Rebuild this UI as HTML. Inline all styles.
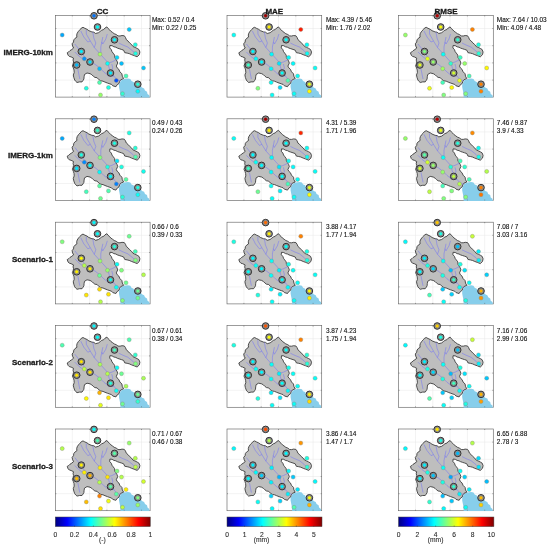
<!DOCTYPE html>
<html><head><meta charset="utf-8"><title>Figure</title>
<style>
html,body{margin:0;padding:0;background:#fff;}
svg{display:block;}
text{font-family:"Liberation Sans",Arial,sans-serif;fill:#1a1a1a;}
.b{font-weight:bold;font-size:8px;stroke:#1a1a1a;stroke-width:0.3px;}
.a{font-size:6.45px;fill:#111;stroke:#111;stroke-width:0.12px;}
.t{font-size:6.7px;fill:#2a2a2a;stroke:#2a2a2a;stroke-width:0.1px;}
</style></head><body>
<svg width="550" height="548" viewBox="0 0 550 548">
<defs>
<linearGradient id="jet" x1="0" x2="1" y1="0" y2="0">
<stop offset="0.0000" stop-color="#000080"/>
<stop offset="0.0312" stop-color="#00009f"/>
<stop offset="0.0625" stop-color="#0000bf"/>
<stop offset="0.0938" stop-color="#0000df"/>
<stop offset="0.1250" stop-color="#0000ff"/>
<stop offset="0.1562" stop-color="#0020ff"/>
<stop offset="0.1875" stop-color="#0040ff"/>
<stop offset="0.2188" stop-color="#0060ff"/>
<stop offset="0.2500" stop-color="#0080ff"/>
<stop offset="0.2812" stop-color="#009fff"/>
<stop offset="0.3125" stop-color="#00bfff"/>
<stop offset="0.3438" stop-color="#00dfff"/>
<stop offset="0.3750" stop-color="#00ffff"/>
<stop offset="0.4062" stop-color="#20ffdf"/>
<stop offset="0.4375" stop-color="#40ffbf"/>
<stop offset="0.4688" stop-color="#60ff9f"/>
<stop offset="0.5000" stop-color="#80ff80"/>
<stop offset="0.5312" stop-color="#9fff60"/>
<stop offset="0.5625" stop-color="#bfff40"/>
<stop offset="0.5938" stop-color="#dfff20"/>
<stop offset="0.6250" stop-color="#ffff00"/>
<stop offset="0.6562" stop-color="#ffdf00"/>
<stop offset="0.6875" stop-color="#ffbf00"/>
<stop offset="0.7188" stop-color="#ff9f00"/>
<stop offset="0.7500" stop-color="#ff8000"/>
<stop offset="0.7812" stop-color="#ff6000"/>
<stop offset="0.8125" stop-color="#ff4000"/>
<stop offset="0.8438" stop-color="#ff2000"/>
<stop offset="0.8750" stop-color="#ff0000"/>
<stop offset="0.9062" stop-color="#df0000"/>
<stop offset="0.9375" stop-color="#bf0000"/>
<stop offset="0.9688" stop-color="#9f0000"/>
<stop offset="1.0000" stop-color="#800000"/>
</linearGradient>
<clipPath id="cp"><rect x="0" y="0" width="94.7" height="81.7"/></clipPath>
<clipPath id="bc"><polygon points="11.9,37.6 14.6,35.4 18.1,32.6 17.1,28.6 18.6,24.6 21.1,21.6 21.6,17.6 24.6,14.1 27.6,11.8 29.6,12.6 33.6,15.1 36.6,16.4 40.1,17.9 43.1,17.2 46.6,15.1 49.6,12.6 51.6,11.4 57.1,17.1 62.6,20.1 68.6,20.6 72.6,25.6 77.6,31.1 83.6,34.1 84.6,36.6 84.1,39.6 81.6,41.6 78.6,40.6 73.6,38.6 69.6,37.1 68.1,35.1 63.6,33.6 58.6,31.1 54.6,30.1 54.1,32.6 55.6,34.6 58.1,37.6 59.6,42.1 62.1,47.6 61.1,50.6 63.1,54.1 66.1,58.6 68.1,63.1 65.6,64.6 63.6,68.1 60.6,71.1 57.6,70.1 54.6,68.1 49.6,66.6 45.6,65.1 41.6,62.6 37.6,61.1 34.6,58.1 31.6,57.6 29.1,59.1 28.6,63.6 26.6,66.6 21.6,67.1 19.1,64.6 18.1,59.6 18.6,54.6 17.4,50.6 18.1,46.6 18.1,42.8 15.6,41.6 12.6,39.8"/></clipPath>
<g id="map">
<rect x="0" y="0" width="94.7" height="81.7" fill="#fff"/>
<line x1="16.9" y1="0" x2="16.9" y2="81.7" stroke="#e6e6e6" stroke-width="0.5"/>
<line x1="34.2" y1="0" x2="34.2" y2="81.7" stroke="#e6e6e6" stroke-width="0.5"/>
<line x1="51.5" y1="0" x2="51.5" y2="81.7" stroke="#e6e6e6" stroke-width="0.5"/>
<line x1="68.8" y1="0" x2="68.8" y2="81.7" stroke="#e6e6e6" stroke-width="0.5"/>
<line x1="86.1" y1="0" x2="86.1" y2="81.7" stroke="#e6e6e6" stroke-width="0.5"/>
<line x1="0" y1="13.1" x2="94.7" y2="13.1" stroke="#e6e6e6" stroke-width="0.5"/>
<line x1="0" y1="30.3" x2="94.7" y2="30.3" stroke="#e6e6e6" stroke-width="0.5"/>
<line x1="0" y1="47.5" x2="94.7" y2="47.5" stroke="#e6e6e6" stroke-width="0.5"/>
<line x1="0" y1="64.7" x2="94.7" y2="64.7" stroke="#e6e6e6" stroke-width="0.5"/>
<rect x="0" y="0" width="94.7" height="81.7" fill="none" stroke="#666" stroke-width="0.65"/>
<polygon points="63.6,69.1 65.6,65.1 68.6,63.6 72.6,63.1 74.9,63.6 76.1,65.6 78.2,66.5 79.1,68.6 81.2,68.5 82.6,70.1 85.0,70.3 86.6,72.1 88.7,73.0 89.6,75.1 91.6,76.3 92.1,78.6 93.9,79.9 94.2,82.1 65.1,82.1 64.6,76.6 63.6,71.6" fill="#87ceeb"/>
<polygon points="11.8,37.4 13.3,36.5 14.5,35.3 16.4,34.1 18.2,32.6 17.2,30.7 16.7,28.4 18.1,26.7 18.4,24.5 19.7,22.9 21.5,21.7 21.3,19.6 21.8,17.8 23.1,15.8 24.7,14.2 25.9,12.7 27.6,11.9 29.4,12.9 31.6,13.9 33.5,15.3 36.5,16.5 38.5,16.8 40.2,18.1 43.1,17.3 44.8,16.0 46.3,14.8 48.3,14.1 49.6,12.6 51.5,11.5 52.7,13.1 54.2,14.4 55.5,15.9 57.1,17.0 58.8,18.3 60.8,19.1 62.6,20.5 64.6,20.6 66.6,20.1 68.9,20.4 70.1,22.1 70.9,24.2 72.6,25.6 74.2,27.5 76.1,29.1 77.6,31.1 79.6,32.0 81.7,33.0 83.5,34.1 84.5,36.6 83.9,39.3 81.7,41.4 78.7,40.2 76.2,39.3 73.8,38.2 71.7,37.7 69.4,37.3 68.2,34.8 66.0,34.0 63.8,33.3 62.0,32.7 60.4,31.8 58.5,31.4 56.7,30.3 54.5,30.1 54.3,32.5 55.9,34.3 56.6,36.3 57.7,37.7 59.2,39.7 59.4,42.2 60.5,43.9 61.6,45.6 62.3,47.7 60.9,50.7 61.8,52.5 63.4,53.9 64.5,56.4 66.5,58.4 66.9,60.9 68.2,63.2 65.3,64.4 64.2,66.1 63.6,68.1 61.8,69.3 60.5,71.3 57.4,70.4 56.1,69.0 54.5,68.5 52.0,67.6 49.6,66.7 47.6,65.8 45.4,65.4 43.4,64.2 41.7,62.3 39.5,62.0 37.9,60.8 36.4,59.3 34.6,58.2 31.6,57.6 29.1,59.1 28.7,61.3 28.5,63.6 27.6,65.1 26.6,66.5 24.1,66.5 21.6,67.1 20.3,65.9 19.3,64.6 18.4,62.1 17.9,59.6 18.8,57.1 18.6,54.6 18.0,52.6 17.0,50.5 17.7,48.6 18.2,46.6 17.7,44.7 18.1,42.7 15.7,41.5 13.9,41.0 12.7,39.8" fill="#bebebe" stroke="#333" stroke-width="0.85" stroke-linejoin="round"/>
<polyline clip-path="url(#bc)" points="30.9,14.6 30.9,18.6 34.9,25.6 38.9,32.1 43.4,37.1 48.4,42.6 52.9,47.6 53.4,51.6 55.4,56.6 58.4,60.6 61.4,64.1 65.4,65.6" fill="none" stroke="#6868ff" stroke-width="0.5" stroke-opacity="0.9"/>
<polyline clip-path="url(#bc)" points="19.4,28.6 23.4,33.6 26.4,37.6 29.4,42.1 34.9,46.1 39.9,49.1 44.4,52.6 48.4,56.6 53.4,60.6 58.4,60.6" fill="none" stroke="#6868ff" stroke-width="0.5" stroke-opacity="0.9"/>
<polyline clip-path="url(#bc)" points="47.4,21.6 46.4,26.6 45.4,31.6 45.4,37.6 43.4,37.1" fill="none" stroke="#6868ff" stroke-width="0.5" stroke-opacity="0.9"/>
<polyline clip-path="url(#bc)" points="51.9,18.6 50.4,23.6 47.4,28.6 46.4,26.6" fill="none" stroke="#6868ff" stroke-width="0.5" stroke-opacity="0.9"/>
<polyline clip-path="url(#bc)" points="62.4,41.6 60.4,44.6 56.4,46.6 52.9,47.6" fill="none" stroke="#6868ff" stroke-width="0.5" stroke-opacity="0.9"/>
<polyline clip-path="url(#bc)" points="22.4,53.6 23.4,58.6 24.4,63.6" fill="none" stroke="#6868ff" stroke-width="0.5" stroke-opacity="0.9"/>
<polyline clip-path="url(#bc)" points="19.4,36.6 23.4,40.6 27.4,43.6 29.4,42.1" fill="none" stroke="#6868ff" stroke-width="0.5" stroke-opacity="0.9"/>
<polyline clip-path="url(#bc)" points="25.4,15.6 28.4,21.6 32.4,26.6 34.9,25.6" fill="none" stroke="#6868ff" stroke-width="0.5" stroke-opacity="0.9"/>
<polyline clip-path="url(#bc)" points="37.4,16.6 38.4,22.6 40.4,27.6 38.9,32.1" fill="none" stroke="#6868ff" stroke-width="0.5" stroke-opacity="0.9"/>
<polyline clip-path="url(#bc)" points="63.4,27.6 67.4,29.6 72.4,31.6 77.4,35.6 81.4,39.6" fill="none" stroke="#6868ff" stroke-width="0.5" stroke-opacity="0.9"/>
<polyline clip-path="url(#bc)" points="56.4,48.6 57.4,52.6 55.4,56.6" fill="none" stroke="#6868ff" stroke-width="0.5" stroke-opacity="0.9"/>
<path d="M16.9 0v1M16.9 81.7v-1" stroke="#555" stroke-width="0.5"/>
<path d="M34.2 0v1M34.2 81.7v-1" stroke="#555" stroke-width="0.5"/>
<path d="M51.5 0v1M51.5 81.7v-1" stroke="#555" stroke-width="0.5"/>
<path d="M68.8 0v1M68.8 81.7v-1" stroke="#555" stroke-width="0.5"/>
<path d="M86.1 0v1M86.1 81.7v-1" stroke="#555" stroke-width="0.5"/>
<path d="M0 13.1h1M94.7 13.1h-1" stroke="#555" stroke-width="0.5"/>
<path d="M0 30.3h1M94.7 30.3h-1" stroke="#555" stroke-width="0.5"/>
<path d="M0 47.5h1M94.7 47.5h-1" stroke="#555" stroke-width="0.5"/>
<path d="M0 64.7h1M94.7 64.7h-1" stroke="#555" stroke-width="0.5"/>
</g></defs>
<rect width="550" height="548" fill="#fff"/>
<g transform="translate(55.4,15.4)">
<use href="#map"/>
<circle cx="6.8" cy="19.6" r="2" fill="#00a8ff" stroke="#8a8a7a" stroke-width="0.4"/>
<circle cx="73.8" cy="14.1" r="2" fill="#00c7ff" stroke="#8a8a7a" stroke-width="0.4"/>
<circle cx="79.9" cy="29.3" r="2" fill="#1affe5" stroke="#8a8a7a" stroke-width="0.4"/>
<circle cx="80.1" cy="38.1" r="2" fill="#1affe5" stroke="#8a8a7a" stroke-width="0.4"/>
<circle cx="44.6" cy="38.8" r="2" fill="#9eff61" stroke="#8a8a7a" stroke-width="0.4"/>
<circle cx="61.6" cy="42.1" r="2" fill="#00dbff" stroke="#8a8a7a" stroke-width="0.4"/>
<circle cx="28.9" cy="43.4" r="2" fill="#0094ff" stroke="#8a8a7a" stroke-width="0.4"/>
<circle cx="52.1" cy="48.1" r="2" fill="#05fffa" stroke="#8a8a7a" stroke-width="0.4"/>
<circle cx="66.1" cy="48.1" r="2" fill="#00bdff" stroke="#8a8a7a" stroke-width="0.4"/>
<circle cx="44.1" cy="53.3" r="2" fill="#00bdff" stroke="#8a8a7a" stroke-width="0.4"/>
<circle cx="88.1" cy="52.6" r="2" fill="#00c7ff" stroke="#8a8a7a" stroke-width="0.4"/>
<circle cx="70.6" cy="60.6" r="2" fill="#42ffbd" stroke="#8a8a7a" stroke-width="0.4"/>
<circle cx="60.9" cy="65.1" r="2" fill="#004dff" stroke="#8a8a7a" stroke-width="0.4"/>
<circle cx="44.1" cy="67.1" r="2" fill="#4dffb3" stroke="#8a8a7a" stroke-width="0.4"/>
<circle cx="30.9" cy="72.9" r="2" fill="#1affe5" stroke="#8a8a7a" stroke-width="0.4"/>
<circle cx="53.1" cy="72.1" r="2" fill="#1affe5" stroke="#8a8a7a" stroke-width="0.4"/>
<circle cx="82.4" cy="75.9" r="2" fill="#00faff" stroke="#8a8a7a" stroke-width="0.4"/>
<circle cx="67.1" cy="78.3" r="2" fill="#2effd1" stroke="#8a8a7a" stroke-width="0.4"/>
<circle cx="45.1" cy="79.6" r="2" fill="#94ff6b" stroke="#8a8a7a" stroke-width="0.4"/>
<circle cx="38.6" cy="0.4" r="3.3" fill="#909090" stroke="#333" stroke-width="1"/>
<circle cx="38.6" cy="0.4" r="1.8" fill="#0075ff" stroke="#777" stroke-width="0.3"/>
<circle cx="42.1" cy="11.6" r="3.3" fill="#909090" stroke="#333" stroke-width="1"/>
<circle cx="42.1" cy="11.6" r="1.8" fill="#05fffa" stroke="#777" stroke-width="0.3"/>
<circle cx="59.1" cy="24.4" r="3.3" fill="#909090" stroke="#333" stroke-width="1"/>
<circle cx="59.1" cy="24.4" r="1.8" fill="#00faff" stroke="#777" stroke-width="0.3"/>
<circle cx="25.9" cy="36.1" r="3.3" fill="#909090" stroke="#333" stroke-width="1"/>
<circle cx="25.9" cy="36.1" r="1.8" fill="#00f0ff" stroke="#777" stroke-width="0.3"/>
<circle cx="34.6" cy="46.6" r="3.3" fill="#909090" stroke="#333" stroke-width="1"/>
<circle cx="34.6" cy="46.6" r="1.8" fill="#00e5ff" stroke="#777" stroke-width="0.3"/>
<circle cx="21.3" cy="49.6" r="3.3" fill="#909090" stroke="#333" stroke-width="1"/>
<circle cx="21.3" cy="49.6" r="1.8" fill="#00bdff" stroke="#777" stroke-width="0.3"/>
<circle cx="55.1" cy="57.6" r="3.3" fill="#909090" stroke="#333" stroke-width="1"/>
<circle cx="55.1" cy="57.6" r="1.8" fill="#00f0ff" stroke="#777" stroke-width="0.3"/>
<circle cx="82.4" cy="68.8" r="3.3" fill="#909090" stroke="#333" stroke-width="1"/>
<circle cx="82.4" cy="68.8" r="1.8" fill="#24ffdb" stroke="#777" stroke-width="0.3"/>
</g>
<text class="a" x="152.0" y="21.6">Max: 0.52 / 0.4</text>
<text class="a" x="152.0" y="29.5">Min: 0.22 / 0.25</text>
<g transform="translate(227.0,15.4)">
<use href="#map"/>
<circle cx="6.8" cy="19.6" r="2" fill="#05fffa" stroke="#8a8a7a" stroke-width="0.4"/>
<circle cx="73.8" cy="14.1" r="2" fill="#ff1a00" stroke="#8a8a7a" stroke-width="0.4"/>
<circle cx="79.9" cy="29.3" r="2" fill="#05fffa" stroke="#8a8a7a" stroke-width="0.4"/>
<circle cx="80.1" cy="38.1" r="2" fill="#05fffa" stroke="#8a8a7a" stroke-width="0.4"/>
<circle cx="44.6" cy="38.8" r="2" fill="#00faff" stroke="#8a8a7a" stroke-width="0.4"/>
<circle cx="61.6" cy="42.1" r="2" fill="#00faff" stroke="#8a8a7a" stroke-width="0.4"/>
<circle cx="28.9" cy="43.4" r="2" fill="#00faff" stroke="#8a8a7a" stroke-width="0.4"/>
<circle cx="52.1" cy="48.1" r="2" fill="#00e5ff" stroke="#8a8a7a" stroke-width="0.4"/>
<circle cx="66.1" cy="48.1" r="2" fill="#00faff" stroke="#8a8a7a" stroke-width="0.4"/>
<circle cx="44.1" cy="53.3" r="2" fill="#00faff" stroke="#8a8a7a" stroke-width="0.4"/>
<circle cx="88.1" cy="52.6" r="2" fill="#05fffa" stroke="#8a8a7a" stroke-width="0.4"/>
<circle cx="70.6" cy="60.6" r="2" fill="#05fffa" stroke="#8a8a7a" stroke-width="0.4"/>
<circle cx="60.9" cy="65.1" r="2" fill="#4dffb3" stroke="#8a8a7a" stroke-width="0.4"/>
<circle cx="44.1" cy="67.1" r="2" fill="#05fffa" stroke="#8a8a7a" stroke-width="0.4"/>
<circle cx="30.9" cy="72.9" r="2" fill="#80ff80" stroke="#8a8a7a" stroke-width="0.4"/>
<circle cx="53.1" cy="72.1" r="2" fill="#00dbff" stroke="#8a8a7a" stroke-width="0.4"/>
<circle cx="82.4" cy="75.9" r="2" fill="#fffa00" stroke="#8a8a7a" stroke-width="0.4"/>
<circle cx="67.1" cy="78.3" r="2" fill="#05fffa" stroke="#8a8a7a" stroke-width="0.4"/>
<circle cx="45.1" cy="79.6" r="2" fill="#05fffa" stroke="#8a8a7a" stroke-width="0.4"/>
<circle cx="38.6" cy="0.4" r="3.3" fill="#909090" stroke="#333" stroke-width="1"/>
<circle cx="38.6" cy="0.4" r="1.8" fill="#9e0000" stroke="#777" stroke-width="0.3"/>
<circle cx="42.1" cy="11.6" r="3.3" fill="#909090" stroke="#333" stroke-width="1"/>
<circle cx="42.1" cy="11.6" r="1.8" fill="#fff000" stroke="#777" stroke-width="0.3"/>
<circle cx="59.1" cy="24.4" r="3.3" fill="#909090" stroke="#333" stroke-width="1"/>
<circle cx="59.1" cy="24.4" r="1.8" fill="#05fffa" stroke="#777" stroke-width="0.3"/>
<circle cx="25.9" cy="36.1" r="3.3" fill="#909090" stroke="#333" stroke-width="1"/>
<circle cx="25.9" cy="36.1" r="1.8" fill="#00faff" stroke="#777" stroke-width="0.3"/>
<circle cx="34.6" cy="46.6" r="3.3" fill="#909090" stroke="#333" stroke-width="1"/>
<circle cx="34.6" cy="46.6" r="1.8" fill="#00faff" stroke="#777" stroke-width="0.3"/>
<circle cx="21.3" cy="49.6" r="3.3" fill="#909090" stroke="#333" stroke-width="1"/>
<circle cx="21.3" cy="49.6" r="1.8" fill="#38ffc7" stroke="#777" stroke-width="0.3"/>
<circle cx="55.1" cy="57.6" r="3.3" fill="#909090" stroke="#333" stroke-width="1"/>
<circle cx="55.1" cy="57.6" r="1.8" fill="#05fffa" stroke="#777" stroke-width="0.3"/>
<circle cx="82.4" cy="68.8" r="3.3" fill="#909090" stroke="#333" stroke-width="1"/>
<circle cx="82.4" cy="68.8" r="1.8" fill="#e5ff1a" stroke="#777" stroke-width="0.3"/>
</g>
<text class="a" x="325.9" y="21.6">Max: 4.39 / 5.46</text>
<text class="a" x="325.9" y="29.5">Min: 1.76 / 2.02</text>
<g transform="translate(398.6,15.4)">
<use href="#map"/>
<circle cx="6.8" cy="19.6" r="2" fill="#94ff6b" stroke="#8a8a7a" stroke-width="0.4"/>
<circle cx="73.8" cy="14.1" r="2" fill="#ff8000" stroke="#8a8a7a" stroke-width="0.4"/>
<circle cx="79.9" cy="29.3" r="2" fill="#1affe5" stroke="#8a8a7a" stroke-width="0.4"/>
<circle cx="80.1" cy="38.1" r="2" fill="#24ffdb" stroke="#8a8a7a" stroke-width="0.4"/>
<circle cx="44.6" cy="38.8" r="2" fill="#05fffa" stroke="#8a8a7a" stroke-width="0.4"/>
<circle cx="61.6" cy="42.1" r="2" fill="#38ffc7" stroke="#8a8a7a" stroke-width="0.4"/>
<circle cx="28.9" cy="43.4" r="2" fill="#e5ff1a" stroke="#8a8a7a" stroke-width="0.4"/>
<circle cx="52.1" cy="48.1" r="2" fill="#2effd1" stroke="#8a8a7a" stroke-width="0.4"/>
<circle cx="66.1" cy="48.1" r="2" fill="#94ff6b" stroke="#8a8a7a" stroke-width="0.4"/>
<circle cx="44.1" cy="53.3" r="2" fill="#9eff61" stroke="#8a8a7a" stroke-width="0.4"/>
<circle cx="88.1" cy="52.6" r="2" fill="#fffa00" stroke="#8a8a7a" stroke-width="0.4"/>
<circle cx="70.6" cy="60.6" r="2" fill="#42ffbd" stroke="#8a8a7a" stroke-width="0.4"/>
<circle cx="60.9" cy="65.1" r="2" fill="#e5ff1a" stroke="#8a8a7a" stroke-width="0.4"/>
<circle cx="44.1" cy="67.1" r="2" fill="#42ffbd" stroke="#8a8a7a" stroke-width="0.4"/>
<circle cx="30.9" cy="72.9" r="2" fill="#f0ff0f" stroke="#8a8a7a" stroke-width="0.4"/>
<circle cx="53.1" cy="72.1" r="2" fill="#fffa00" stroke="#8a8a7a" stroke-width="0.4"/>
<circle cx="82.4" cy="75.9" r="2" fill="#ff8000" stroke="#8a8a7a" stroke-width="0.4"/>
<circle cx="67.1" cy="78.3" r="2" fill="#80ff80" stroke="#8a8a7a" stroke-width="0.4"/>
<circle cx="45.1" cy="79.6" r="2" fill="#80ff80" stroke="#8a8a7a" stroke-width="0.4"/>
<circle cx="38.6" cy="0.4" r="3.3" fill="#909090" stroke="#333" stroke-width="1"/>
<circle cx="38.6" cy="0.4" r="1.8" fill="#b30000" stroke="#777" stroke-width="0.3"/>
<circle cx="42.1" cy="11.6" r="3.3" fill="#909090" stroke="#333" stroke-width="1"/>
<circle cx="42.1" cy="11.6" r="1.8" fill="#faff05" stroke="#777" stroke-width="0.3"/>
<circle cx="59.1" cy="24.4" r="3.3" fill="#909090" stroke="#333" stroke-width="1"/>
<circle cx="59.1" cy="24.4" r="1.8" fill="#2effd1" stroke="#777" stroke-width="0.3"/>
<circle cx="25.9" cy="36.1" r="3.3" fill="#909090" stroke="#333" stroke-width="1"/>
<circle cx="25.9" cy="36.1" r="1.8" fill="#80ff80" stroke="#777" stroke-width="0.3"/>
<circle cx="34.6" cy="46.6" r="3.3" fill="#909090" stroke="#333" stroke-width="1"/>
<circle cx="34.6" cy="46.6" r="1.8" fill="#94ff6b" stroke="#777" stroke-width="0.3"/>
<circle cx="21.3" cy="49.6" r="3.3" fill="#909090" stroke="#333" stroke-width="1"/>
<circle cx="21.3" cy="49.6" r="1.8" fill="#e5ff1a" stroke="#777" stroke-width="0.3"/>
<circle cx="55.1" cy="57.6" r="3.3" fill="#909090" stroke="#333" stroke-width="1"/>
<circle cx="55.1" cy="57.6" r="1.8" fill="#d1ff2e" stroke="#777" stroke-width="0.3"/>
<circle cx="82.4" cy="68.8" r="3.3" fill="#909090" stroke="#333" stroke-width="1"/>
<circle cx="82.4" cy="68.8" r="1.8" fill="#ff8000" stroke="#777" stroke-width="0.3"/>
</g>
<text class="a" x="496.8" y="21.6">Max: 7.64 / 10.03</text>
<text class="a" x="496.8" y="29.5">Min: 4.09 / 4.48</text>
<text class="b" text-anchor="end" x="52.9" y="54.9">IMERG-10km</text>
<g transform="translate(55.4,118.8)">
<use href="#map"/>
<circle cx="6.8" cy="19.6" r="2" fill="#00a8ff" stroke="#8a8a7a" stroke-width="0.4"/>
<circle cx="73.8" cy="14.1" r="2" fill="#1affe5" stroke="#8a8a7a" stroke-width="0.4"/>
<circle cx="79.9" cy="29.3" r="2" fill="#24ffdb" stroke="#8a8a7a" stroke-width="0.4"/>
<circle cx="80.1" cy="38.1" r="2" fill="#4dffb3" stroke="#8a8a7a" stroke-width="0.4"/>
<circle cx="44.6" cy="38.8" r="2" fill="#80ff80" stroke="#8a8a7a" stroke-width="0.4"/>
<circle cx="61.6" cy="42.1" r="2" fill="#00e5ff" stroke="#8a8a7a" stroke-width="0.4"/>
<circle cx="28.9" cy="43.4" r="2" fill="#008aff" stroke="#8a8a7a" stroke-width="0.4"/>
<circle cx="52.1" cy="48.1" r="2" fill="#1affe5" stroke="#8a8a7a" stroke-width="0.4"/>
<circle cx="66.1" cy="48.1" r="2" fill="#1affe5" stroke="#8a8a7a" stroke-width="0.4"/>
<circle cx="44.1" cy="53.3" r="2" fill="#00faff" stroke="#8a8a7a" stroke-width="0.4"/>
<circle cx="88.1" cy="52.6" r="2" fill="#0ffff0" stroke="#8a8a7a" stroke-width="0.4"/>
<circle cx="70.6" cy="60.6" r="2" fill="#57ffa8" stroke="#8a8a7a" stroke-width="0.4"/>
<circle cx="60.9" cy="65.1" r="2" fill="#0080ff" stroke="#8a8a7a" stroke-width="0.4"/>
<circle cx="44.1" cy="67.1" r="2" fill="#57ffa8" stroke="#8a8a7a" stroke-width="0.4"/>
<circle cx="30.9" cy="72.9" r="2" fill="#42ffbd" stroke="#8a8a7a" stroke-width="0.4"/>
<circle cx="53.1" cy="72.1" r="2" fill="#4dffb3" stroke="#8a8a7a" stroke-width="0.4"/>
<circle cx="82.4" cy="75.9" r="2" fill="#05fffa" stroke="#8a8a7a" stroke-width="0.4"/>
<circle cx="67.1" cy="78.3" r="2" fill="#24ffdb" stroke="#8a8a7a" stroke-width="0.4"/>
<circle cx="45.1" cy="79.6" r="2" fill="#6bff94" stroke="#8a8a7a" stroke-width="0.4"/>
<circle cx="38.6" cy="0.4" r="3.3" fill="#909090" stroke="#333" stroke-width="1"/>
<circle cx="38.6" cy="0.4" r="1.8" fill="#0080ff" stroke="#777" stroke-width="0.3"/>
<circle cx="42.1" cy="11.6" r="3.3" fill="#909090" stroke="#333" stroke-width="1"/>
<circle cx="42.1" cy="11.6" r="1.8" fill="#38ffc7" stroke="#777" stroke-width="0.3"/>
<circle cx="59.1" cy="24.4" r="3.3" fill="#909090" stroke="#333" stroke-width="1"/>
<circle cx="59.1" cy="24.4" r="1.8" fill="#1affe5" stroke="#777" stroke-width="0.3"/>
<circle cx="25.9" cy="36.1" r="3.3" fill="#909090" stroke="#333" stroke-width="1"/>
<circle cx="25.9" cy="36.1" r="1.8" fill="#1affe5" stroke="#777" stroke-width="0.3"/>
<circle cx="34.6" cy="46.6" r="3.3" fill="#909090" stroke="#333" stroke-width="1"/>
<circle cx="34.6" cy="46.6" r="1.8" fill="#00faff" stroke="#777" stroke-width="0.3"/>
<circle cx="21.3" cy="49.6" r="3.3" fill="#909090" stroke="#333" stroke-width="1"/>
<circle cx="21.3" cy="49.6" r="1.8" fill="#00e5ff" stroke="#777" stroke-width="0.3"/>
<circle cx="55.1" cy="57.6" r="3.3" fill="#909090" stroke="#333" stroke-width="1"/>
<circle cx="55.1" cy="57.6" r="1.8" fill="#00faff" stroke="#777" stroke-width="0.3"/>
<circle cx="82.4" cy="68.8" r="3.3" fill="#909090" stroke="#333" stroke-width="1"/>
<circle cx="82.4" cy="68.8" r="1.8" fill="#1affe5" stroke="#777" stroke-width="0.3"/>
</g>
<text class="a" x="152.0" y="125.3">0.49 / 0.43</text>
<text class="a" x="152.0" y="133.2">0.24 / 0.26</text>
<g transform="translate(227.0,118.8)">
<use href="#map"/>
<circle cx="6.8" cy="19.6" r="2" fill="#05fffa" stroke="#8a8a7a" stroke-width="0.4"/>
<circle cx="73.8" cy="14.1" r="2" fill="#ff2400" stroke="#8a8a7a" stroke-width="0.4"/>
<circle cx="79.9" cy="29.3" r="2" fill="#05fffa" stroke="#8a8a7a" stroke-width="0.4"/>
<circle cx="80.1" cy="38.1" r="2" fill="#05fffa" stroke="#8a8a7a" stroke-width="0.4"/>
<circle cx="44.6" cy="38.8" r="2" fill="#00faff" stroke="#8a8a7a" stroke-width="0.4"/>
<circle cx="61.6" cy="42.1" r="2" fill="#05fffa" stroke="#8a8a7a" stroke-width="0.4"/>
<circle cx="28.9" cy="43.4" r="2" fill="#05fffa" stroke="#8a8a7a" stroke-width="0.4"/>
<circle cx="52.1" cy="48.1" r="2" fill="#00e5ff" stroke="#8a8a7a" stroke-width="0.4"/>
<circle cx="66.1" cy="48.1" r="2" fill="#00faff" stroke="#8a8a7a" stroke-width="0.4"/>
<circle cx="44.1" cy="53.3" r="2" fill="#00faff" stroke="#8a8a7a" stroke-width="0.4"/>
<circle cx="88.1" cy="52.6" r="2" fill="#05fffa" stroke="#8a8a7a" stroke-width="0.4"/>
<circle cx="70.6" cy="60.6" r="2" fill="#05fffa" stroke="#8a8a7a" stroke-width="0.4"/>
<circle cx="60.9" cy="65.1" r="2" fill="#42ffbd" stroke="#8a8a7a" stroke-width="0.4"/>
<circle cx="44.1" cy="67.1" r="2" fill="#05fffa" stroke="#8a8a7a" stroke-width="0.4"/>
<circle cx="30.9" cy="72.9" r="2" fill="#6bff94" stroke="#8a8a7a" stroke-width="0.4"/>
<circle cx="53.1" cy="72.1" r="2" fill="#00f0ff" stroke="#8a8a7a" stroke-width="0.4"/>
<circle cx="82.4" cy="75.9" r="2" fill="#faff05" stroke="#8a8a7a" stroke-width="0.4"/>
<circle cx="67.1" cy="78.3" r="2" fill="#05fffa" stroke="#8a8a7a" stroke-width="0.4"/>
<circle cx="45.1" cy="79.6" r="2" fill="#05fffa" stroke="#8a8a7a" stroke-width="0.4"/>
<circle cx="38.6" cy="0.4" r="3.3" fill="#909090" stroke="#333" stroke-width="1"/>
<circle cx="38.6" cy="0.4" r="1.8" fill="#9e0000" stroke="#777" stroke-width="0.3"/>
<circle cx="42.1" cy="11.6" r="3.3" fill="#909090" stroke="#333" stroke-width="1"/>
<circle cx="42.1" cy="11.6" r="1.8" fill="#fff000" stroke="#777" stroke-width="0.3"/>
<circle cx="59.1" cy="24.4" r="3.3" fill="#909090" stroke="#333" stroke-width="1"/>
<circle cx="59.1" cy="24.4" r="1.8" fill="#05fffa" stroke="#777" stroke-width="0.3"/>
<circle cx="25.9" cy="36.1" r="3.3" fill="#909090" stroke="#333" stroke-width="1"/>
<circle cx="25.9" cy="36.1" r="1.8" fill="#00faff" stroke="#777" stroke-width="0.3"/>
<circle cx="34.6" cy="46.6" r="3.3" fill="#909090" stroke="#333" stroke-width="1"/>
<circle cx="34.6" cy="46.6" r="1.8" fill="#00faff" stroke="#777" stroke-width="0.3"/>
<circle cx="21.3" cy="49.6" r="3.3" fill="#909090" stroke="#333" stroke-width="1"/>
<circle cx="21.3" cy="49.6" r="1.8" fill="#38ffc7" stroke="#777" stroke-width="0.3"/>
<circle cx="55.1" cy="57.6" r="3.3" fill="#909090" stroke="#333" stroke-width="1"/>
<circle cx="55.1" cy="57.6" r="1.8" fill="#05fffa" stroke="#777" stroke-width="0.3"/>
<circle cx="82.4" cy="68.8" r="3.3" fill="#909090" stroke="#333" stroke-width="1"/>
<circle cx="82.4" cy="68.8" r="1.8" fill="#e5ff1a" stroke="#777" stroke-width="0.3"/>
</g>
<text class="a" x="325.9" y="125.3">4.31 / 5.39</text>
<text class="a" x="325.9" y="133.2">1.71 / 1.96</text>
<g transform="translate(398.6,118.8)">
<use href="#map"/>
<circle cx="6.8" cy="19.6" r="2" fill="#94ff6b" stroke="#8a8a7a" stroke-width="0.4"/>
<circle cx="73.8" cy="14.1" r="2" fill="#ff8a00" stroke="#8a8a7a" stroke-width="0.4"/>
<circle cx="79.9" cy="29.3" r="2" fill="#05fffa" stroke="#8a8a7a" stroke-width="0.4"/>
<circle cx="80.1" cy="38.1" r="2" fill="#0ffff0" stroke="#8a8a7a" stroke-width="0.4"/>
<circle cx="44.6" cy="38.8" r="2" fill="#05fffa" stroke="#8a8a7a" stroke-width="0.4"/>
<circle cx="61.6" cy="42.1" r="2" fill="#42ffbd" stroke="#8a8a7a" stroke-width="0.4"/>
<circle cx="28.9" cy="43.4" r="2" fill="#d1ff2e" stroke="#8a8a7a" stroke-width="0.4"/>
<circle cx="52.1" cy="48.1" r="2" fill="#24ffdb" stroke="#8a8a7a" stroke-width="0.4"/>
<circle cx="66.1" cy="48.1" r="2" fill="#2effd1" stroke="#8a8a7a" stroke-width="0.4"/>
<circle cx="44.1" cy="53.3" r="2" fill="#94ff6b" stroke="#8a8a7a" stroke-width="0.4"/>
<circle cx="88.1" cy="52.6" r="2" fill="#b3ff4c" stroke="#8a8a7a" stroke-width="0.4"/>
<circle cx="70.6" cy="60.6" r="2" fill="#42ffbd" stroke="#8a8a7a" stroke-width="0.4"/>
<circle cx="60.9" cy="65.1" r="2" fill="#b3ff4c" stroke="#8a8a7a" stroke-width="0.4"/>
<circle cx="44.1" cy="67.1" r="2" fill="#42ffbd" stroke="#8a8a7a" stroke-width="0.4"/>
<circle cx="30.9" cy="72.9" r="2" fill="#bdff42" stroke="#8a8a7a" stroke-width="0.4"/>
<circle cx="53.1" cy="72.1" r="2" fill="#80ff80" stroke="#8a8a7a" stroke-width="0.4"/>
<circle cx="82.4" cy="75.9" r="2" fill="#ff7500" stroke="#8a8a7a" stroke-width="0.4"/>
<circle cx="67.1" cy="78.3" r="2" fill="#80ff80" stroke="#8a8a7a" stroke-width="0.4"/>
<circle cx="45.1" cy="79.6" r="2" fill="#80ff80" stroke="#8a8a7a" stroke-width="0.4"/>
<circle cx="38.6" cy="0.4" r="3.3" fill="#909090" stroke="#333" stroke-width="1"/>
<circle cx="38.6" cy="0.4" r="1.8" fill="#b30000" stroke="#777" stroke-width="0.3"/>
<circle cx="42.1" cy="11.6" r="3.3" fill="#909090" stroke="#333" stroke-width="1"/>
<circle cx="42.1" cy="11.6" r="1.8" fill="#e5ff1a" stroke="#777" stroke-width="0.3"/>
<circle cx="59.1" cy="24.4" r="3.3" fill="#909090" stroke="#333" stroke-width="1"/>
<circle cx="59.1" cy="24.4" r="1.8" fill="#24ffdb" stroke="#777" stroke-width="0.3"/>
<circle cx="25.9" cy="36.1" r="3.3" fill="#909090" stroke="#333" stroke-width="1"/>
<circle cx="25.9" cy="36.1" r="1.8" fill="#57ffa8" stroke="#777" stroke-width="0.3"/>
<circle cx="34.6" cy="46.6" r="3.3" fill="#909090" stroke="#333" stroke-width="1"/>
<circle cx="34.6" cy="46.6" r="1.8" fill="#94ff6b" stroke="#777" stroke-width="0.3"/>
<circle cx="21.3" cy="49.6" r="3.3" fill="#909090" stroke="#333" stroke-width="1"/>
<circle cx="21.3" cy="49.6" r="1.8" fill="#d1ff2e" stroke="#777" stroke-width="0.3"/>
<circle cx="55.1" cy="57.6" r="3.3" fill="#909090" stroke="#333" stroke-width="1"/>
<circle cx="55.1" cy="57.6" r="1.8" fill="#bdff42" stroke="#777" stroke-width="0.3"/>
<circle cx="82.4" cy="68.8" r="3.3" fill="#909090" stroke="#333" stroke-width="1"/>
<circle cx="82.4" cy="68.8" r="1.8" fill="#ff8000" stroke="#777" stroke-width="0.3"/>
</g>
<text class="a" x="496.8" y="125.3">7.46 / 9.87</text>
<text class="a" x="496.8" y="133.2">3.9 / 4.33</text>
<text class="b" text-anchor="end" x="52.9" y="158.3">IMERG-1km</text>
<g transform="translate(55.4,222.2)">
<use href="#map"/>
<circle cx="6.8" cy="19.6" r="2" fill="#80ff80" stroke="#8a8a7a" stroke-width="0.4"/>
<circle cx="73.8" cy="14.1" r="2" fill="#6bff94" stroke="#8a8a7a" stroke-width="0.4"/>
<circle cx="79.9" cy="29.3" r="2" fill="#42ffbd" stroke="#8a8a7a" stroke-width="0.4"/>
<circle cx="80.1" cy="38.1" r="2" fill="#80ff80" stroke="#8a8a7a" stroke-width="0.4"/>
<circle cx="44.6" cy="38.8" r="2" fill="#94ff6b" stroke="#8a8a7a" stroke-width="0.4"/>
<circle cx="61.6" cy="42.1" r="2" fill="#05fffa" stroke="#8a8a7a" stroke-width="0.4"/>
<circle cx="28.9" cy="43.4" r="2" fill="#b3ff4c" stroke="#8a8a7a" stroke-width="0.4"/>
<circle cx="52.1" cy="48.1" r="2" fill="#94ff6b" stroke="#8a8a7a" stroke-width="0.4"/>
<circle cx="66.1" cy="48.1" r="2" fill="#80ff80" stroke="#8a8a7a" stroke-width="0.4"/>
<circle cx="44.1" cy="53.3" r="2" fill="#6bff94" stroke="#8a8a7a" stroke-width="0.4"/>
<circle cx="88.1" cy="52.6" r="2" fill="#b3ff4c" stroke="#8a8a7a" stroke-width="0.4"/>
<circle cx="70.6" cy="60.6" r="2" fill="#6bff94" stroke="#8a8a7a" stroke-width="0.4"/>
<circle cx="60.9" cy="65.1" r="2" fill="#05fffa" stroke="#8a8a7a" stroke-width="0.4"/>
<circle cx="44.1" cy="67.1" r="2" fill="#ffdb00" stroke="#8a8a7a" stroke-width="0.4"/>
<circle cx="30.9" cy="72.9" r="2" fill="#ffe500" stroke="#8a8a7a" stroke-width="0.4"/>
<circle cx="53.1" cy="72.1" r="2" fill="#ffe500" stroke="#8a8a7a" stroke-width="0.4"/>
<circle cx="82.4" cy="75.9" r="2" fill="#6bff94" stroke="#8a8a7a" stroke-width="0.4"/>
<circle cx="67.1" cy="78.3" r="2" fill="#80ff80" stroke="#8a8a7a" stroke-width="0.4"/>
<circle cx="45.1" cy="79.6" r="2" fill="#b3ff4c" stroke="#8a8a7a" stroke-width="0.4"/>
<circle cx="38.6" cy="0.4" r="3.3" fill="#909090" stroke="#333" stroke-width="1"/>
<circle cx="38.6" cy="0.4" r="1.8" fill="#00faff" stroke="#777" stroke-width="0.3"/>
<circle cx="42.1" cy="11.6" r="3.3" fill="#909090" stroke="#333" stroke-width="1"/>
<circle cx="42.1" cy="11.6" r="1.8" fill="#05fffa" stroke="#777" stroke-width="0.3"/>
<circle cx="59.1" cy="24.4" r="3.3" fill="#909090" stroke="#333" stroke-width="1"/>
<circle cx="59.1" cy="24.4" r="1.8" fill="#24ffdb" stroke="#777" stroke-width="0.3"/>
<circle cx="25.9" cy="36.1" r="3.3" fill="#909090" stroke="#333" stroke-width="1"/>
<circle cx="25.9" cy="36.1" r="1.8" fill="#fffa00" stroke="#777" stroke-width="0.3"/>
<circle cx="34.6" cy="46.6" r="3.3" fill="#909090" stroke="#333" stroke-width="1"/>
<circle cx="34.6" cy="46.6" r="1.8" fill="#fff000" stroke="#777" stroke-width="0.3"/>
<circle cx="21.3" cy="49.6" r="3.3" fill="#909090" stroke="#333" stroke-width="1"/>
<circle cx="21.3" cy="49.6" r="1.8" fill="#fff000" stroke="#777" stroke-width="0.3"/>
<circle cx="55.1" cy="57.6" r="3.3" fill="#909090" stroke="#333" stroke-width="1"/>
<circle cx="55.1" cy="57.6" r="1.8" fill="#0ffff0" stroke="#777" stroke-width="0.3"/>
<circle cx="82.4" cy="68.8" r="3.3" fill="#909090" stroke="#333" stroke-width="1"/>
<circle cx="82.4" cy="68.8" r="1.8" fill="#6bff94" stroke="#777" stroke-width="0.3"/>
</g>
<text class="a" x="152.0" y="229.0">0.66 / 0.6</text>
<text class="a" x="152.0" y="236.9">0.39 / 0.33</text>
<g transform="translate(227.0,222.2)">
<use href="#map"/>
<circle cx="6.8" cy="19.6" r="2" fill="#1affe5" stroke="#8a8a7a" stroke-width="0.4"/>
<circle cx="73.8" cy="14.1" r="2" fill="#ff8000" stroke="#8a8a7a" stroke-width="0.4"/>
<circle cx="79.9" cy="29.3" r="2" fill="#1affe5" stroke="#8a8a7a" stroke-width="0.4"/>
<circle cx="80.1" cy="38.1" r="2" fill="#1affe5" stroke="#8a8a7a" stroke-width="0.4"/>
<circle cx="44.6" cy="38.8" r="2" fill="#05fffa" stroke="#8a8a7a" stroke-width="0.4"/>
<circle cx="61.6" cy="42.1" r="2" fill="#0ffff0" stroke="#8a8a7a" stroke-width="0.4"/>
<circle cx="28.9" cy="43.4" r="2" fill="#05fffa" stroke="#8a8a7a" stroke-width="0.4"/>
<circle cx="52.1" cy="48.1" r="2" fill="#00f0ff" stroke="#8a8a7a" stroke-width="0.4"/>
<circle cx="66.1" cy="48.1" r="2" fill="#05fffa" stroke="#8a8a7a" stroke-width="0.4"/>
<circle cx="44.1" cy="53.3" r="2" fill="#05fffa" stroke="#8a8a7a" stroke-width="0.4"/>
<circle cx="88.1" cy="52.6" r="2" fill="#05fffa" stroke="#8a8a7a" stroke-width="0.4"/>
<circle cx="70.6" cy="60.6" r="2" fill="#05fffa" stroke="#8a8a7a" stroke-width="0.4"/>
<circle cx="60.9" cy="65.1" r="2" fill="#00faff" stroke="#8a8a7a" stroke-width="0.4"/>
<circle cx="44.1" cy="67.1" r="2" fill="#00f0ff" stroke="#8a8a7a" stroke-width="0.4"/>
<circle cx="30.9" cy="72.9" r="2" fill="#1affe5" stroke="#8a8a7a" stroke-width="0.4"/>
<circle cx="53.1" cy="72.1" r="2" fill="#00f0ff" stroke="#8a8a7a" stroke-width="0.4"/>
<circle cx="82.4" cy="75.9" r="2" fill="#fff000" stroke="#8a8a7a" stroke-width="0.4"/>
<circle cx="67.1" cy="78.3" r="2" fill="#05fffa" stroke="#8a8a7a" stroke-width="0.4"/>
<circle cx="45.1" cy="79.6" r="2" fill="#05fffa" stroke="#8a8a7a" stroke-width="0.4"/>
<circle cx="38.6" cy="0.4" r="3.3" fill="#909090" stroke="#333" stroke-width="1"/>
<circle cx="38.6" cy="0.4" r="1.8" fill="#ff6b00" stroke="#777" stroke-width="0.3"/>
<circle cx="42.1" cy="11.6" r="3.3" fill="#909090" stroke="#333" stroke-width="1"/>
<circle cx="42.1" cy="11.6" r="1.8" fill="#fff000" stroke="#777" stroke-width="0.3"/>
<circle cx="59.1" cy="24.4" r="3.3" fill="#909090" stroke="#333" stroke-width="1"/>
<circle cx="59.1" cy="24.4" r="1.8" fill="#05fffa" stroke="#777" stroke-width="0.3"/>
<circle cx="25.9" cy="36.1" r="3.3" fill="#909090" stroke="#333" stroke-width="1"/>
<circle cx="25.9" cy="36.1" r="1.8" fill="#00faff" stroke="#777" stroke-width="0.3"/>
<circle cx="34.6" cy="46.6" r="3.3" fill="#909090" stroke="#333" stroke-width="1"/>
<circle cx="34.6" cy="46.6" r="1.8" fill="#00faff" stroke="#777" stroke-width="0.3"/>
<circle cx="21.3" cy="49.6" r="3.3" fill="#909090" stroke="#333" stroke-width="1"/>
<circle cx="21.3" cy="49.6" r="1.8" fill="#05fffa" stroke="#777" stroke-width="0.3"/>
<circle cx="55.1" cy="57.6" r="3.3" fill="#909090" stroke="#333" stroke-width="1"/>
<circle cx="55.1" cy="57.6" r="1.8" fill="#05fffa" stroke="#777" stroke-width="0.3"/>
<circle cx="82.4" cy="68.8" r="3.3" fill="#909090" stroke="#333" stroke-width="1"/>
<circle cx="82.4" cy="68.8" r="1.8" fill="#fffa00" stroke="#777" stroke-width="0.3"/>
</g>
<text class="a" x="325.9" y="229.0">3.88 / 4.17</text>
<text class="a" x="325.9" y="236.9">1.77 / 1.94</text>
<g transform="translate(398.6,222.2)">
<use href="#map"/>
<circle cx="6.8" cy="19.6" r="2" fill="#00faff" stroke="#8a8a7a" stroke-width="0.4"/>
<circle cx="73.8" cy="14.1" r="2" fill="#c7ff38" stroke="#8a8a7a" stroke-width="0.4"/>
<circle cx="79.9" cy="29.3" r="2" fill="#00f0ff" stroke="#8a8a7a" stroke-width="0.4"/>
<circle cx="80.1" cy="38.1" r="2" fill="#00f0ff" stroke="#8a8a7a" stroke-width="0.4"/>
<circle cx="44.6" cy="38.8" r="2" fill="#05fffa" stroke="#8a8a7a" stroke-width="0.4"/>
<circle cx="61.6" cy="42.1" r="2" fill="#1affe5" stroke="#8a8a7a" stroke-width="0.4"/>
<circle cx="28.9" cy="43.4" r="2" fill="#1affe5" stroke="#8a8a7a" stroke-width="0.4"/>
<circle cx="52.1" cy="48.1" r="2" fill="#00bdff" stroke="#8a8a7a" stroke-width="0.4"/>
<circle cx="66.1" cy="48.1" r="2" fill="#00e5ff" stroke="#8a8a7a" stroke-width="0.4"/>
<circle cx="44.1" cy="53.3" r="2" fill="#1affe5" stroke="#8a8a7a" stroke-width="0.4"/>
<circle cx="88.1" cy="52.6" r="2" fill="#00d1ff" stroke="#8a8a7a" stroke-width="0.4"/>
<circle cx="70.6" cy="60.6" r="2" fill="#05fffa" stroke="#8a8a7a" stroke-width="0.4"/>
<circle cx="60.9" cy="65.1" r="2" fill="#05fffa" stroke="#8a8a7a" stroke-width="0.4"/>
<circle cx="44.1" cy="67.1" r="2" fill="#00c7ff" stroke="#8a8a7a" stroke-width="0.4"/>
<circle cx="30.9" cy="72.9" r="2" fill="#42ffbd" stroke="#8a8a7a" stroke-width="0.4"/>
<circle cx="53.1" cy="72.1" r="2" fill="#00d1ff" stroke="#8a8a7a" stroke-width="0.4"/>
<circle cx="82.4" cy="75.9" r="2" fill="#ff9400" stroke="#8a8a7a" stroke-width="0.4"/>
<circle cx="67.1" cy="78.3" r="2" fill="#1affe5" stroke="#8a8a7a" stroke-width="0.4"/>
<circle cx="45.1" cy="79.6" r="2" fill="#05fffa" stroke="#8a8a7a" stroke-width="0.4"/>
<circle cx="38.6" cy="0.4" r="3.3" fill="#909090" stroke="#333" stroke-width="1"/>
<circle cx="38.6" cy="0.4" r="1.8" fill="#ffc700" stroke="#777" stroke-width="0.3"/>
<circle cx="42.1" cy="11.6" r="3.3" fill="#909090" stroke="#333" stroke-width="1"/>
<circle cx="42.1" cy="11.6" r="1.8" fill="#1affe5" stroke="#777" stroke-width="0.3"/>
<circle cx="59.1" cy="24.4" r="3.3" fill="#909090" stroke="#333" stroke-width="1"/>
<circle cx="59.1" cy="24.4" r="1.8" fill="#00c7ff" stroke="#777" stroke-width="0.3"/>
<circle cx="25.9" cy="36.1" r="3.3" fill="#909090" stroke="#333" stroke-width="1"/>
<circle cx="25.9" cy="36.1" r="1.8" fill="#00f0ff" stroke="#777" stroke-width="0.3"/>
<circle cx="34.6" cy="46.6" r="3.3" fill="#909090" stroke="#333" stroke-width="1"/>
<circle cx="34.6" cy="46.6" r="1.8" fill="#00dbff" stroke="#777" stroke-width="0.3"/>
<circle cx="21.3" cy="49.6" r="3.3" fill="#909090" stroke="#333" stroke-width="1"/>
<circle cx="21.3" cy="49.6" r="1.8" fill="#00faff" stroke="#777" stroke-width="0.3"/>
<circle cx="55.1" cy="57.6" r="3.3" fill="#909090" stroke="#333" stroke-width="1"/>
<circle cx="55.1" cy="57.6" r="1.8" fill="#38ffc7" stroke="#777" stroke-width="0.3"/>
<circle cx="82.4" cy="68.8" r="3.3" fill="#909090" stroke="#333" stroke-width="1"/>
<circle cx="82.4" cy="68.8" r="1.8" fill="#ffb300" stroke="#777" stroke-width="0.3"/>
</g>
<text class="a" x="496.8" y="229.0">7.08 / 7</text>
<text class="a" x="496.8" y="236.9">3.03 / 3.16</text>
<text class="b" text-anchor="end" x="52.9" y="261.7">Scenario-1</text>
<g transform="translate(55.4,325.6)">
<use href="#map"/>
<circle cx="6.8" cy="19.6" r="2" fill="#4dffb3" stroke="#8a8a7a" stroke-width="0.4"/>
<circle cx="73.8" cy="14.1" r="2" fill="#4dffb3" stroke="#8a8a7a" stroke-width="0.4"/>
<circle cx="79.9" cy="29.3" r="2" fill="#2effd1" stroke="#8a8a7a" stroke-width="0.4"/>
<circle cx="80.1" cy="38.1" r="2" fill="#80ff80" stroke="#8a8a7a" stroke-width="0.4"/>
<circle cx="44.6" cy="38.8" r="2" fill="#a8ff57" stroke="#8a8a7a" stroke-width="0.4"/>
<circle cx="61.6" cy="42.1" r="2" fill="#05fffa" stroke="#8a8a7a" stroke-width="0.4"/>
<circle cx="28.9" cy="43.4" r="2" fill="#bdff42" stroke="#8a8a7a" stroke-width="0.4"/>
<circle cx="52.1" cy="48.1" r="2" fill="#b3ff4c" stroke="#8a8a7a" stroke-width="0.4"/>
<circle cx="66.1" cy="48.1" r="2" fill="#6bff94" stroke="#8a8a7a" stroke-width="0.4"/>
<circle cx="44.1" cy="53.3" r="2" fill="#80ff80" stroke="#8a8a7a" stroke-width="0.4"/>
<circle cx="88.1" cy="52.6" r="2" fill="#a8ff57" stroke="#8a8a7a" stroke-width="0.4"/>
<circle cx="70.6" cy="60.6" r="2" fill="#a8ff57" stroke="#8a8a7a" stroke-width="0.4"/>
<circle cx="60.9" cy="65.1" r="2" fill="#05fffa" stroke="#8a8a7a" stroke-width="0.4"/>
<circle cx="44.1" cy="67.1" r="2" fill="#ffb300" stroke="#8a8a7a" stroke-width="0.4"/>
<circle cx="30.9" cy="72.9" r="2" fill="#fffa00" stroke="#8a8a7a" stroke-width="0.4"/>
<circle cx="53.1" cy="72.1" r="2" fill="#ffe500" stroke="#8a8a7a" stroke-width="0.4"/>
<circle cx="82.4" cy="75.9" r="2" fill="#2effd1" stroke="#8a8a7a" stroke-width="0.4"/>
<circle cx="67.1" cy="78.3" r="2" fill="#6bff94" stroke="#8a8a7a" stroke-width="0.4"/>
<circle cx="45.1" cy="79.6" r="2" fill="#e5ff1a" stroke="#8a8a7a" stroke-width="0.4"/>
<circle cx="38.6" cy="0.4" r="3.3" fill="#909090" stroke="#333" stroke-width="1"/>
<circle cx="38.6" cy="0.4" r="1.8" fill="#00faff" stroke="#777" stroke-width="0.3"/>
<circle cx="42.1" cy="11.6" r="3.3" fill="#909090" stroke="#333" stroke-width="1"/>
<circle cx="42.1" cy="11.6" r="1.8" fill="#05fffa" stroke="#777" stroke-width="0.3"/>
<circle cx="59.1" cy="24.4" r="3.3" fill="#909090" stroke="#333" stroke-width="1"/>
<circle cx="59.1" cy="24.4" r="1.8" fill="#42ffbd" stroke="#777" stroke-width="0.3"/>
<circle cx="25.9" cy="36.1" r="3.3" fill="#909090" stroke="#333" stroke-width="1"/>
<circle cx="25.9" cy="36.1" r="1.8" fill="#ffe500" stroke="#777" stroke-width="0.3"/>
<circle cx="34.6" cy="46.6" r="3.3" fill="#909090" stroke="#333" stroke-width="1"/>
<circle cx="34.6" cy="46.6" r="1.8" fill="#ffe500" stroke="#777" stroke-width="0.3"/>
<circle cx="21.3" cy="49.6" r="3.3" fill="#909090" stroke="#333" stroke-width="1"/>
<circle cx="21.3" cy="49.6" r="1.8" fill="#ffe500" stroke="#777" stroke-width="0.3"/>
<circle cx="55.1" cy="57.6" r="3.3" fill="#909090" stroke="#333" stroke-width="1"/>
<circle cx="55.1" cy="57.6" r="1.8" fill="#24ffdb" stroke="#777" stroke-width="0.3"/>
<circle cx="82.4" cy="68.8" r="3.3" fill="#909090" stroke="#333" stroke-width="1"/>
<circle cx="82.4" cy="68.8" r="1.8" fill="#6bff94" stroke="#777" stroke-width="0.3"/>
</g>
<text class="a" x="152.0" y="332.7">0.67 / 0.61</text>
<text class="a" x="152.0" y="340.6">0.38 / 0.34</text>
<g transform="translate(227.0,325.6)">
<use href="#map"/>
<circle cx="6.8" cy="19.6" r="2" fill="#1affe5" stroke="#8a8a7a" stroke-width="0.4"/>
<circle cx="73.8" cy="14.1" r="2" fill="#ff8000" stroke="#8a8a7a" stroke-width="0.4"/>
<circle cx="79.9" cy="29.3" r="2" fill="#24ffdb" stroke="#8a8a7a" stroke-width="0.4"/>
<circle cx="80.1" cy="38.1" r="2" fill="#24ffdb" stroke="#8a8a7a" stroke-width="0.4"/>
<circle cx="44.6" cy="38.8" r="2" fill="#05fffa" stroke="#8a8a7a" stroke-width="0.4"/>
<circle cx="61.6" cy="42.1" r="2" fill="#0ffff0" stroke="#8a8a7a" stroke-width="0.4"/>
<circle cx="28.9" cy="43.4" r="2" fill="#05fffa" stroke="#8a8a7a" stroke-width="0.4"/>
<circle cx="52.1" cy="48.1" r="2" fill="#00f0ff" stroke="#8a8a7a" stroke-width="0.4"/>
<circle cx="66.1" cy="48.1" r="2" fill="#05fffa" stroke="#8a8a7a" stroke-width="0.4"/>
<circle cx="44.1" cy="53.3" r="2" fill="#05fffa" stroke="#8a8a7a" stroke-width="0.4"/>
<circle cx="88.1" cy="52.6" r="2" fill="#05fffa" stroke="#8a8a7a" stroke-width="0.4"/>
<circle cx="70.6" cy="60.6" r="2" fill="#05fffa" stroke="#8a8a7a" stroke-width="0.4"/>
<circle cx="60.9" cy="65.1" r="2" fill="#00faff" stroke="#8a8a7a" stroke-width="0.4"/>
<circle cx="44.1" cy="67.1" r="2" fill="#00f0ff" stroke="#8a8a7a" stroke-width="0.4"/>
<circle cx="30.9" cy="72.9" r="2" fill="#1affe5" stroke="#8a8a7a" stroke-width="0.4"/>
<circle cx="53.1" cy="72.1" r="2" fill="#00e5ff" stroke="#8a8a7a" stroke-width="0.4"/>
<circle cx="82.4" cy="75.9" r="2" fill="#ffdb00" stroke="#8a8a7a" stroke-width="0.4"/>
<circle cx="67.1" cy="78.3" r="2" fill="#05fffa" stroke="#8a8a7a" stroke-width="0.4"/>
<circle cx="45.1" cy="79.6" r="2" fill="#05fffa" stroke="#8a8a7a" stroke-width="0.4"/>
<circle cx="38.6" cy="0.4" r="3.3" fill="#909090" stroke="#333" stroke-width="1"/>
<circle cx="38.6" cy="0.4" r="1.8" fill="#ff5700" stroke="#777" stroke-width="0.3"/>
<circle cx="42.1" cy="11.6" r="3.3" fill="#909090" stroke="#333" stroke-width="1"/>
<circle cx="42.1" cy="11.6" r="1.8" fill="#faff05" stroke="#777" stroke-width="0.3"/>
<circle cx="59.1" cy="24.4" r="3.3" fill="#909090" stroke="#333" stroke-width="1"/>
<circle cx="59.1" cy="24.4" r="1.8" fill="#05fffa" stroke="#777" stroke-width="0.3"/>
<circle cx="25.9" cy="36.1" r="3.3" fill="#909090" stroke="#333" stroke-width="1"/>
<circle cx="25.9" cy="36.1" r="1.8" fill="#00faff" stroke="#777" stroke-width="0.3"/>
<circle cx="34.6" cy="46.6" r="3.3" fill="#909090" stroke="#333" stroke-width="1"/>
<circle cx="34.6" cy="46.6" r="1.8" fill="#00faff" stroke="#777" stroke-width="0.3"/>
<circle cx="21.3" cy="49.6" r="3.3" fill="#909090" stroke="#333" stroke-width="1"/>
<circle cx="21.3" cy="49.6" r="1.8" fill="#05fffa" stroke="#777" stroke-width="0.3"/>
<circle cx="55.1" cy="57.6" r="3.3" fill="#909090" stroke="#333" stroke-width="1"/>
<circle cx="55.1" cy="57.6" r="1.8" fill="#05fffa" stroke="#777" stroke-width="0.3"/>
<circle cx="82.4" cy="68.8" r="3.3" fill="#909090" stroke="#333" stroke-width="1"/>
<circle cx="82.4" cy="68.8" r="1.8" fill="#fff000" stroke="#777" stroke-width="0.3"/>
</g>
<text class="a" x="325.9" y="332.7">3.87 / 4.23</text>
<text class="a" x="325.9" y="340.6">1.75 / 1.94</text>
<g transform="translate(398.6,325.6)">
<use href="#map"/>
<circle cx="6.8" cy="19.6" r="2" fill="#00faff" stroke="#8a8a7a" stroke-width="0.4"/>
<circle cx="73.8" cy="14.1" r="2" fill="#c7ff38" stroke="#8a8a7a" stroke-width="0.4"/>
<circle cx="79.9" cy="29.3" r="2" fill="#00e5ff" stroke="#8a8a7a" stroke-width="0.4"/>
<circle cx="80.1" cy="38.1" r="2" fill="#00f0ff" stroke="#8a8a7a" stroke-width="0.4"/>
<circle cx="44.6" cy="38.8" r="2" fill="#05fffa" stroke="#8a8a7a" stroke-width="0.4"/>
<circle cx="61.6" cy="42.1" r="2" fill="#1affe5" stroke="#8a8a7a" stroke-width="0.4"/>
<circle cx="28.9" cy="43.4" r="2" fill="#1affe5" stroke="#8a8a7a" stroke-width="0.4"/>
<circle cx="52.1" cy="48.1" r="2" fill="#00bdff" stroke="#8a8a7a" stroke-width="0.4"/>
<circle cx="66.1" cy="48.1" r="2" fill="#00e5ff" stroke="#8a8a7a" stroke-width="0.4"/>
<circle cx="44.1" cy="53.3" r="2" fill="#1affe5" stroke="#8a8a7a" stroke-width="0.4"/>
<circle cx="88.1" cy="52.6" r="2" fill="#00c7ff" stroke="#8a8a7a" stroke-width="0.4"/>
<circle cx="70.6" cy="60.6" r="2" fill="#05fffa" stroke="#8a8a7a" stroke-width="0.4"/>
<circle cx="60.9" cy="65.1" r="2" fill="#05fffa" stroke="#8a8a7a" stroke-width="0.4"/>
<circle cx="44.1" cy="67.1" r="2" fill="#00c7ff" stroke="#8a8a7a" stroke-width="0.4"/>
<circle cx="30.9" cy="72.9" r="2" fill="#4dffb3" stroke="#8a8a7a" stroke-width="0.4"/>
<circle cx="53.1" cy="72.1" r="2" fill="#00d1ff" stroke="#8a8a7a" stroke-width="0.4"/>
<circle cx="82.4" cy="75.9" r="2" fill="#ff9e00" stroke="#8a8a7a" stroke-width="0.4"/>
<circle cx="67.1" cy="78.3" r="2" fill="#1affe5" stroke="#8a8a7a" stroke-width="0.4"/>
<circle cx="45.1" cy="79.6" r="2" fill="#05fffa" stroke="#8a8a7a" stroke-width="0.4"/>
<circle cx="38.6" cy="0.4" r="3.3" fill="#909090" stroke="#333" stroke-width="1"/>
<circle cx="38.6" cy="0.4" r="1.8" fill="#ffd100" stroke="#777" stroke-width="0.3"/>
<circle cx="42.1" cy="11.6" r="3.3" fill="#909090" stroke="#333" stroke-width="1"/>
<circle cx="42.1" cy="11.6" r="1.8" fill="#1affe5" stroke="#777" stroke-width="0.3"/>
<circle cx="59.1" cy="24.4" r="3.3" fill="#909090" stroke="#333" stroke-width="1"/>
<circle cx="59.1" cy="24.4" r="1.8" fill="#00c7ff" stroke="#777" stroke-width="0.3"/>
<circle cx="25.9" cy="36.1" r="3.3" fill="#909090" stroke="#333" stroke-width="1"/>
<circle cx="25.9" cy="36.1" r="1.8" fill="#00f0ff" stroke="#777" stroke-width="0.3"/>
<circle cx="34.6" cy="46.6" r="3.3" fill="#909090" stroke="#333" stroke-width="1"/>
<circle cx="34.6" cy="46.6" r="1.8" fill="#00dbff" stroke="#777" stroke-width="0.3"/>
<circle cx="21.3" cy="49.6" r="3.3" fill="#909090" stroke="#333" stroke-width="1"/>
<circle cx="21.3" cy="49.6" r="1.8" fill="#00faff" stroke="#777" stroke-width="0.3"/>
<circle cx="55.1" cy="57.6" r="3.3" fill="#909090" stroke="#333" stroke-width="1"/>
<circle cx="55.1" cy="57.6" r="1.8" fill="#42ffbd" stroke="#777" stroke-width="0.3"/>
<circle cx="82.4" cy="68.8" r="3.3" fill="#909090" stroke="#333" stroke-width="1"/>
<circle cx="82.4" cy="68.8" r="1.8" fill="#ffb300" stroke="#777" stroke-width="0.3"/>
</g>
<text class="a" x="496.8" y="332.7">7.16 / 7.06</text>
<text class="a" x="496.8" y="340.6">2.99 / 3.06</text>
<text class="b" text-anchor="end" x="52.9" y="365.1">Scenario-2</text>
<g transform="translate(55.4,429.0)">
<use href="#map"/>
<circle cx="6.8" cy="19.6" r="2" fill="#b3ff4c" stroke="#8a8a7a" stroke-width="0.4"/>
<circle cx="73.8" cy="14.1" r="2" fill="#94ff6b" stroke="#8a8a7a" stroke-width="0.4"/>
<circle cx="79.9" cy="29.3" r="2" fill="#b3ff4c" stroke="#8a8a7a" stroke-width="0.4"/>
<circle cx="80.1" cy="38.1" r="2" fill="#bdff42" stroke="#8a8a7a" stroke-width="0.4"/>
<circle cx="44.6" cy="38.8" r="2" fill="#fff000" stroke="#8a8a7a" stroke-width="0.4"/>
<circle cx="61.6" cy="42.1" r="2" fill="#80ff80" stroke="#8a8a7a" stroke-width="0.4"/>
<circle cx="28.9" cy="43.4" r="2" fill="#fff000" stroke="#8a8a7a" stroke-width="0.4"/>
<circle cx="52.1" cy="48.1" r="2" fill="#ffe500" stroke="#8a8a7a" stroke-width="0.4"/>
<circle cx="66.1" cy="48.1" r="2" fill="#b3ff4c" stroke="#8a8a7a" stroke-width="0.4"/>
<circle cx="44.1" cy="53.3" r="2" fill="#b3ff4c" stroke="#8a8a7a" stroke-width="0.4"/>
<circle cx="88.1" cy="52.6" r="2" fill="#d1ff2e" stroke="#8a8a7a" stroke-width="0.4"/>
<circle cx="70.6" cy="60.6" r="2" fill="#fff000" stroke="#8a8a7a" stroke-width="0.4"/>
<circle cx="60.9" cy="65.1" r="2" fill="#57ffa8" stroke="#8a8a7a" stroke-width="0.4"/>
<circle cx="44.1" cy="67.1" r="2" fill="#ff8000" stroke="#8a8a7a" stroke-width="0.4"/>
<circle cx="30.9" cy="72.9" r="2" fill="#ffbd00" stroke="#8a8a7a" stroke-width="0.4"/>
<circle cx="53.1" cy="72.1" r="2" fill="#f0ff0f" stroke="#8a8a7a" stroke-width="0.4"/>
<circle cx="82.4" cy="75.9" r="2" fill="#94ff6b" stroke="#8a8a7a" stroke-width="0.4"/>
<circle cx="67.1" cy="78.3" r="2" fill="#bdff42" stroke="#8a8a7a" stroke-width="0.4"/>
<circle cx="45.1" cy="79.6" r="2" fill="#ffe500" stroke="#8a8a7a" stroke-width="0.4"/>
<circle cx="38.6" cy="0.4" r="3.3" fill="#909090" stroke="#333" stroke-width="1"/>
<circle cx="38.6" cy="0.4" r="1.8" fill="#05fffa" stroke="#777" stroke-width="0.3"/>
<circle cx="42.1" cy="11.6" r="3.3" fill="#909090" stroke="#333" stroke-width="1"/>
<circle cx="42.1" cy="11.6" r="1.8" fill="#4dffb3" stroke="#777" stroke-width="0.3"/>
<circle cx="59.1" cy="24.4" r="3.3" fill="#909090" stroke="#333" stroke-width="1"/>
<circle cx="59.1" cy="24.4" r="1.8" fill="#57ffa8" stroke="#777" stroke-width="0.3"/>
<circle cx="25.9" cy="36.1" r="3.3" fill="#909090" stroke="#333" stroke-width="1"/>
<circle cx="25.9" cy="36.1" r="1.8" fill="#fff000" stroke="#777" stroke-width="0.3"/>
<circle cx="34.6" cy="46.6" r="3.3" fill="#909090" stroke="#333" stroke-width="1"/>
<circle cx="34.6" cy="46.6" r="1.8" fill="#ffb300" stroke="#777" stroke-width="0.3"/>
<circle cx="21.3" cy="49.6" r="3.3" fill="#909090" stroke="#333" stroke-width="1"/>
<circle cx="21.3" cy="49.6" r="1.8" fill="#ffbd00" stroke="#777" stroke-width="0.3"/>
<circle cx="55.1" cy="57.6" r="3.3" fill="#909090" stroke="#333" stroke-width="1"/>
<circle cx="55.1" cy="57.6" r="1.8" fill="#57ffa8" stroke="#777" stroke-width="0.3"/>
<circle cx="82.4" cy="68.8" r="3.3" fill="#909090" stroke="#333" stroke-width="1"/>
<circle cx="82.4" cy="68.8" r="1.8" fill="#80ff80" stroke="#777" stroke-width="0.3"/>
</g>
<text class="a" x="152.0" y="436.4">0.71 / 0.67</text>
<text class="a" x="152.0" y="444.3">0.46 / 0.38</text>
<g transform="translate(227.0,429.0)">
<use href="#map"/>
<circle cx="6.8" cy="19.6" r="2" fill="#00faff" stroke="#8a8a7a" stroke-width="0.4"/>
<circle cx="73.8" cy="14.1" r="2" fill="#ff9400" stroke="#8a8a7a" stroke-width="0.4"/>
<circle cx="79.9" cy="29.3" r="2" fill="#1affe5" stroke="#8a8a7a" stroke-width="0.4"/>
<circle cx="80.1" cy="38.1" r="2" fill="#24ffdb" stroke="#8a8a7a" stroke-width="0.4"/>
<circle cx="44.6" cy="38.8" r="2" fill="#00f0ff" stroke="#8a8a7a" stroke-width="0.4"/>
<circle cx="61.6" cy="42.1" r="2" fill="#00faff" stroke="#8a8a7a" stroke-width="0.4"/>
<circle cx="28.9" cy="43.4" r="2" fill="#00faff" stroke="#8a8a7a" stroke-width="0.4"/>
<circle cx="52.1" cy="48.1" r="2" fill="#00b3ff" stroke="#8a8a7a" stroke-width="0.4"/>
<circle cx="66.1" cy="48.1" r="2" fill="#00c7ff" stroke="#8a8a7a" stroke-width="0.4"/>
<circle cx="44.1" cy="53.3" r="2" fill="#00f0ff" stroke="#8a8a7a" stroke-width="0.4"/>
<circle cx="88.1" cy="52.6" r="2" fill="#00faff" stroke="#8a8a7a" stroke-width="0.4"/>
<circle cx="70.6" cy="60.6" r="2" fill="#00e5ff" stroke="#8a8a7a" stroke-width="0.4"/>
<circle cx="60.9" cy="65.1" r="2" fill="#00f0ff" stroke="#8a8a7a" stroke-width="0.4"/>
<circle cx="44.1" cy="67.1" r="2" fill="#00d1ff" stroke="#8a8a7a" stroke-width="0.4"/>
<circle cx="30.9" cy="72.9" r="2" fill="#05fffa" stroke="#8a8a7a" stroke-width="0.4"/>
<circle cx="53.1" cy="72.1" r="2" fill="#00d1ff" stroke="#8a8a7a" stroke-width="0.4"/>
<circle cx="82.4" cy="75.9" r="2" fill="#ffb300" stroke="#8a8a7a" stroke-width="0.4"/>
<circle cx="67.1" cy="78.3" r="2" fill="#4dffb3" stroke="#8a8a7a" stroke-width="0.4"/>
<circle cx="45.1" cy="79.6" r="2" fill="#00faff" stroke="#8a8a7a" stroke-width="0.4"/>
<circle cx="38.6" cy="0.4" r="3.3" fill="#909090" stroke="#333" stroke-width="1"/>
<circle cx="38.6" cy="0.4" r="1.8" fill="#ff4c00" stroke="#777" stroke-width="0.3"/>
<circle cx="42.1" cy="11.6" r="3.3" fill="#909090" stroke="#333" stroke-width="1"/>
<circle cx="42.1" cy="11.6" r="1.8" fill="#b3ff4c" stroke="#777" stroke-width="0.3"/>
<circle cx="59.1" cy="24.4" r="3.3" fill="#909090" stroke="#333" stroke-width="1"/>
<circle cx="59.1" cy="24.4" r="1.8" fill="#00faff" stroke="#777" stroke-width="0.3"/>
<circle cx="25.9" cy="36.1" r="3.3" fill="#909090" stroke="#333" stroke-width="1"/>
<circle cx="25.9" cy="36.1" r="1.8" fill="#00f0ff" stroke="#777" stroke-width="0.3"/>
<circle cx="34.6" cy="46.6" r="3.3" fill="#909090" stroke="#333" stroke-width="1"/>
<circle cx="34.6" cy="46.6" r="1.8" fill="#00d1ff" stroke="#777" stroke-width="0.3"/>
<circle cx="21.3" cy="49.6" r="3.3" fill="#909090" stroke="#333" stroke-width="1"/>
<circle cx="21.3" cy="49.6" r="1.8" fill="#00faff" stroke="#777" stroke-width="0.3"/>
<circle cx="55.1" cy="57.6" r="3.3" fill="#909090" stroke="#333" stroke-width="1"/>
<circle cx="55.1" cy="57.6" r="1.8" fill="#00f0ff" stroke="#777" stroke-width="0.3"/>
<circle cx="82.4" cy="68.8" r="3.3" fill="#909090" stroke="#333" stroke-width="1"/>
<circle cx="82.4" cy="68.8" r="1.8" fill="#faff05" stroke="#777" stroke-width="0.3"/>
</g>
<text class="a" x="325.9" y="436.4">3.86 / 4.14</text>
<text class="a" x="325.9" y="444.3">1.47 / 1.7</text>
<g transform="translate(398.6,429.0)">
<use href="#map"/>
<circle cx="6.8" cy="19.6" r="2" fill="#00faff" stroke="#8a8a7a" stroke-width="0.4"/>
<circle cx="73.8" cy="14.1" r="2" fill="#b3ff4c" stroke="#8a8a7a" stroke-width="0.4"/>
<circle cx="79.9" cy="29.3" r="2" fill="#00dbff" stroke="#8a8a7a" stroke-width="0.4"/>
<circle cx="80.1" cy="38.1" r="2" fill="#00e5ff" stroke="#8a8a7a" stroke-width="0.4"/>
<circle cx="44.6" cy="38.8" r="2" fill="#05fffa" stroke="#8a8a7a" stroke-width="0.4"/>
<circle cx="61.6" cy="42.1" r="2" fill="#05fffa" stroke="#8a8a7a" stroke-width="0.4"/>
<circle cx="28.9" cy="43.4" r="2" fill="#1affe5" stroke="#8a8a7a" stroke-width="0.4"/>
<circle cx="52.1" cy="48.1" r="2" fill="#00a8ff" stroke="#8a8a7a" stroke-width="0.4"/>
<circle cx="66.1" cy="48.1" r="2" fill="#00d1ff" stroke="#8a8a7a" stroke-width="0.4"/>
<circle cx="44.1" cy="53.3" r="2" fill="#1affe5" stroke="#8a8a7a" stroke-width="0.4"/>
<circle cx="88.1" cy="52.6" r="2" fill="#00bdff" stroke="#8a8a7a" stroke-width="0.4"/>
<circle cx="70.6" cy="60.6" r="2" fill="#00f0ff" stroke="#8a8a7a" stroke-width="0.4"/>
<circle cx="60.9" cy="65.1" r="2" fill="#00f0ff" stroke="#8a8a7a" stroke-width="0.4"/>
<circle cx="44.1" cy="67.1" r="2" fill="#00bdff" stroke="#8a8a7a" stroke-width="0.4"/>
<circle cx="30.9" cy="72.9" r="2" fill="#2effd1" stroke="#8a8a7a" stroke-width="0.4"/>
<circle cx="53.1" cy="72.1" r="2" fill="#00c7ff" stroke="#8a8a7a" stroke-width="0.4"/>
<circle cx="82.4" cy="75.9" r="2" fill="#ffd100" stroke="#8a8a7a" stroke-width="0.4"/>
<circle cx="67.1" cy="78.3" r="2" fill="#05fffa" stroke="#8a8a7a" stroke-width="0.4"/>
<circle cx="45.1" cy="79.6" r="2" fill="#00faff" stroke="#8a8a7a" stroke-width="0.4"/>
<circle cx="38.6" cy="0.4" r="3.3" fill="#909090" stroke="#333" stroke-width="1"/>
<circle cx="38.6" cy="0.4" r="1.8" fill="#ffe500" stroke="#777" stroke-width="0.3"/>
<circle cx="42.1" cy="11.6" r="3.3" fill="#909090" stroke="#333" stroke-width="1"/>
<circle cx="42.1" cy="11.6" r="1.8" fill="#1affe5" stroke="#777" stroke-width="0.3"/>
<circle cx="59.1" cy="24.4" r="3.3" fill="#909090" stroke="#333" stroke-width="1"/>
<circle cx="59.1" cy="24.4" r="1.8" fill="#00bdff" stroke="#777" stroke-width="0.3"/>
<circle cx="25.9" cy="36.1" r="3.3" fill="#909090" stroke="#333" stroke-width="1"/>
<circle cx="25.9" cy="36.1" r="1.8" fill="#00f0ff" stroke="#777" stroke-width="0.3"/>
<circle cx="34.6" cy="46.6" r="3.3" fill="#909090" stroke="#333" stroke-width="1"/>
<circle cx="34.6" cy="46.6" r="1.8" fill="#00c7ff" stroke="#777" stroke-width="0.3"/>
<circle cx="21.3" cy="49.6" r="3.3" fill="#909090" stroke="#333" stroke-width="1"/>
<circle cx="21.3" cy="49.6" r="1.8" fill="#00faff" stroke="#777" stroke-width="0.3"/>
<circle cx="55.1" cy="57.6" r="3.3" fill="#909090" stroke="#333" stroke-width="1"/>
<circle cx="55.1" cy="57.6" r="1.8" fill="#2effd1" stroke="#777" stroke-width="0.3"/>
<circle cx="82.4" cy="68.8" r="3.3" fill="#909090" stroke="#333" stroke-width="1"/>
<circle cx="82.4" cy="68.8" r="1.8" fill="#ffbd00" stroke="#777" stroke-width="0.3"/>
</g>
<text class="a" x="496.8" y="436.4">6.65 / 6.88</text>
<text class="a" x="496.8" y="444.3">2.78 / 3</text>
<text class="b" text-anchor="end" x="52.9" y="468.5">Scenario-3</text>
<text class="b" text-anchor="middle" x="102.6" y="13.5">CC</text>
<text class="b" text-anchor="middle" x="274.3" y="13.5">MAE</text>
<text class="b" text-anchor="middle" x="446.0" y="13.5">RMSE</text>
<rect x="55.3" y="517" width="95.0" height="9.6" fill="url(#jet)" stroke="#444" stroke-width="0.5"/>
<text class="t" text-anchor="middle" x="55.3" y="537">0</text>
<text class="t" text-anchor="middle" x="74.5" y="537">0.2</text>
<path d="M74.5 526.6v-1" stroke="#333" stroke-width="0.5"/>
<text class="t" text-anchor="middle" x="93.4" y="537">0.4</text>
<path d="M93.4 526.6v-1" stroke="#333" stroke-width="0.5"/>
<text class="t" text-anchor="middle" x="112.2" y="537">0.6</text>
<path d="M112.2 526.6v-1" stroke="#333" stroke-width="0.5"/>
<text class="t" text-anchor="middle" x="131.2" y="537">0.8</text>
<path d="M131.2 526.6v-1" stroke="#333" stroke-width="0.5"/>
<text class="t" text-anchor="middle" x="150.4" y="537">1</text>
<text class="t" text-anchor="middle" x="102.4" y="542.2">(-)</text>
<rect x="227.0" y="517" width="95.0" height="9.6" fill="url(#jet)" stroke="#444" stroke-width="0.5"/>
<text class="t" text-anchor="middle" x="227.0" y="537">0</text>
<text class="t" text-anchor="middle" x="244.5" y="537">1</text>
<path d="M244.5 526.6v-1" stroke="#333" stroke-width="0.5"/>
<text class="t" text-anchor="middle" x="261.9" y="537">2</text>
<path d="M261.9 526.6v-1" stroke="#333" stroke-width="0.5"/>
<text class="t" text-anchor="middle" x="278.9" y="537">3</text>
<path d="M278.9 526.6v-1" stroke="#333" stroke-width="0.5"/>
<text class="t" text-anchor="middle" x="296.4" y="537">4</text>
<path d="M296.4 526.6v-1" stroke="#333" stroke-width="0.5"/>
<text class="t" text-anchor="middle" x="313.8" y="537">5</text>
<path d="M313.8 526.6v-1" stroke="#333" stroke-width="0.5"/>
<text class="t" text-anchor="middle" x="261.5" y="542.2">(mm)</text>
<rect x="398.5" y="517" width="95.4" height="9.6" fill="url(#jet)" stroke="#444" stroke-width="0.5"/>
<text class="t" text-anchor="middle" x="398.5" y="537">0</text>
<text class="t" text-anchor="middle" x="417.3" y="537">2</text>
<path d="M417.3 526.6v-1" stroke="#333" stroke-width="0.5"/>
<text class="t" text-anchor="middle" x="435.6" y="537">4</text>
<path d="M435.6 526.6v-1" stroke="#333" stroke-width="0.5"/>
<text class="t" text-anchor="middle" x="454.2" y="537">6</text>
<path d="M454.2 526.6v-1" stroke="#333" stroke-width="0.5"/>
<text class="t" text-anchor="middle" x="472.7" y="537">8</text>
<path d="M472.7 526.6v-1" stroke="#333" stroke-width="0.5"/>
<text class="t" text-anchor="middle" x="491.3" y="537">10</text>
<path d="M491.3 526.6v-1" stroke="#333" stroke-width="0.5"/>
<text class="t" text-anchor="middle" x="435.6" y="542.2">(mm)</text>
</svg></body></html>
